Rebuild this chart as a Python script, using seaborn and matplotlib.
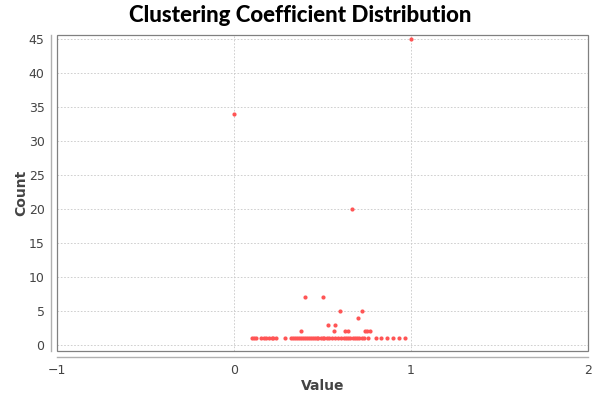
import pandas as pd
import seaborn as sns
import matplotlib.pyplot as plt
from matplotlib.patches import Rectangle

# clustering coefficient values and how many nodes have each
ones = [0.1, 0.111, 0.125, 0.15, 0.167, 0.182, 0.2, 0.214, 0.222, 0.238, 0.286,
        0.321, 0.333, 0.345, 0.357, 0.367, 0.378, 0.389, 0.4, 0.411, 0.422,
        0.433, 0.444, 0.455, 0.467, 0.476, 0.489, 0.5, 0.511, 0.524,
        0.538, 0.556, 0.571, 0.589, 0.606, 0.619, 0.633, 0.644, 0.655,
        0.673, 0.686, 0.697, 0.709, 0.722, 0.735, 0.758,
        0.8, 0.833, 0.867, 0.9, 0.933, 0.967]
other_values = [0.0, 1.0, 0.667, 0.4, 0.5, 0.6, 0.722, 0.7, 0.533, 0.571,
                0.381, 0.567, 0.625, 0.643, 0.738, 0.75, 0.769]
other_counts = [34, 45, 20, 7, 7, 5, 5, 4, 3, 3,
                2, 2, 2, 2, 2, 2, 2]

values = ones + other_values
counts = [1] * len(ones) + other_counts
df = pd.DataFrame({'Value': values, 'Count': counts})

sns.set_style('white')
plt.rcParams['font.family'] = ['DejaVu Sans']

fig = plt.figure(figsize=(6, 4), dpi=100)
ax = fig.add_axes([0.095, 0.1225, 0.885, 0.79])

sns.scatterplot(x='Value', y='Count', data=df, ax=ax, color='#ff5555',
                marker='o', s=9, linewidth=0, zorder=3)

ax.set_xlim(-1, 2)
ax.set_ylim(-0.88, 45.6)
ax.set_xticks([-1, 0, 1, 2])
ax.set_yticks(range(0, 46, 5))

ax.grid(True, color='#c8c8c8', linestyle=(0, (2, 2)), linewidth=0.6)
ax.set_axisbelow(True)

# box around the plot, axis lines pushed a little outside like the original
ax.add_patch(Rectangle((0, 0), 1, 1, transform=ax.transAxes, fill=False,
                       edgecolor='#808080', linewidth=0.9, zorder=5, clip_on=False))
for side in ['top', 'right']:
    ax.spines[side].set_visible(False)
for side in ['left', 'bottom']:
    ax.spines[side].set_position(('outward', 4))
    ax.spines[side].set_color('#b0b0b0')
    ax.spines[side].set_linewidth(1)

ax.tick_params(axis='both', which='both', length=3, width=0.8, color='#b0b0b0',
               labelsize=9, labelcolor='#444444', direction='out', pad=2)

ax.set_xlabel('Value', fontsize=10, fontweight='bold', color='#444444', labelpad=2)
ax.set_ylabel('Count', fontsize=10, fontweight='bold', color='#444444', labelpad=0)
fig.suptitle('Clustering Coefficient Distribution', fontsize=16,
             fontweight='black', color='black', family=['Lato', 'DejaVu Sans'],
             y=0.988)

plt.savefig('out.png', dpi=100)
plt.close()
